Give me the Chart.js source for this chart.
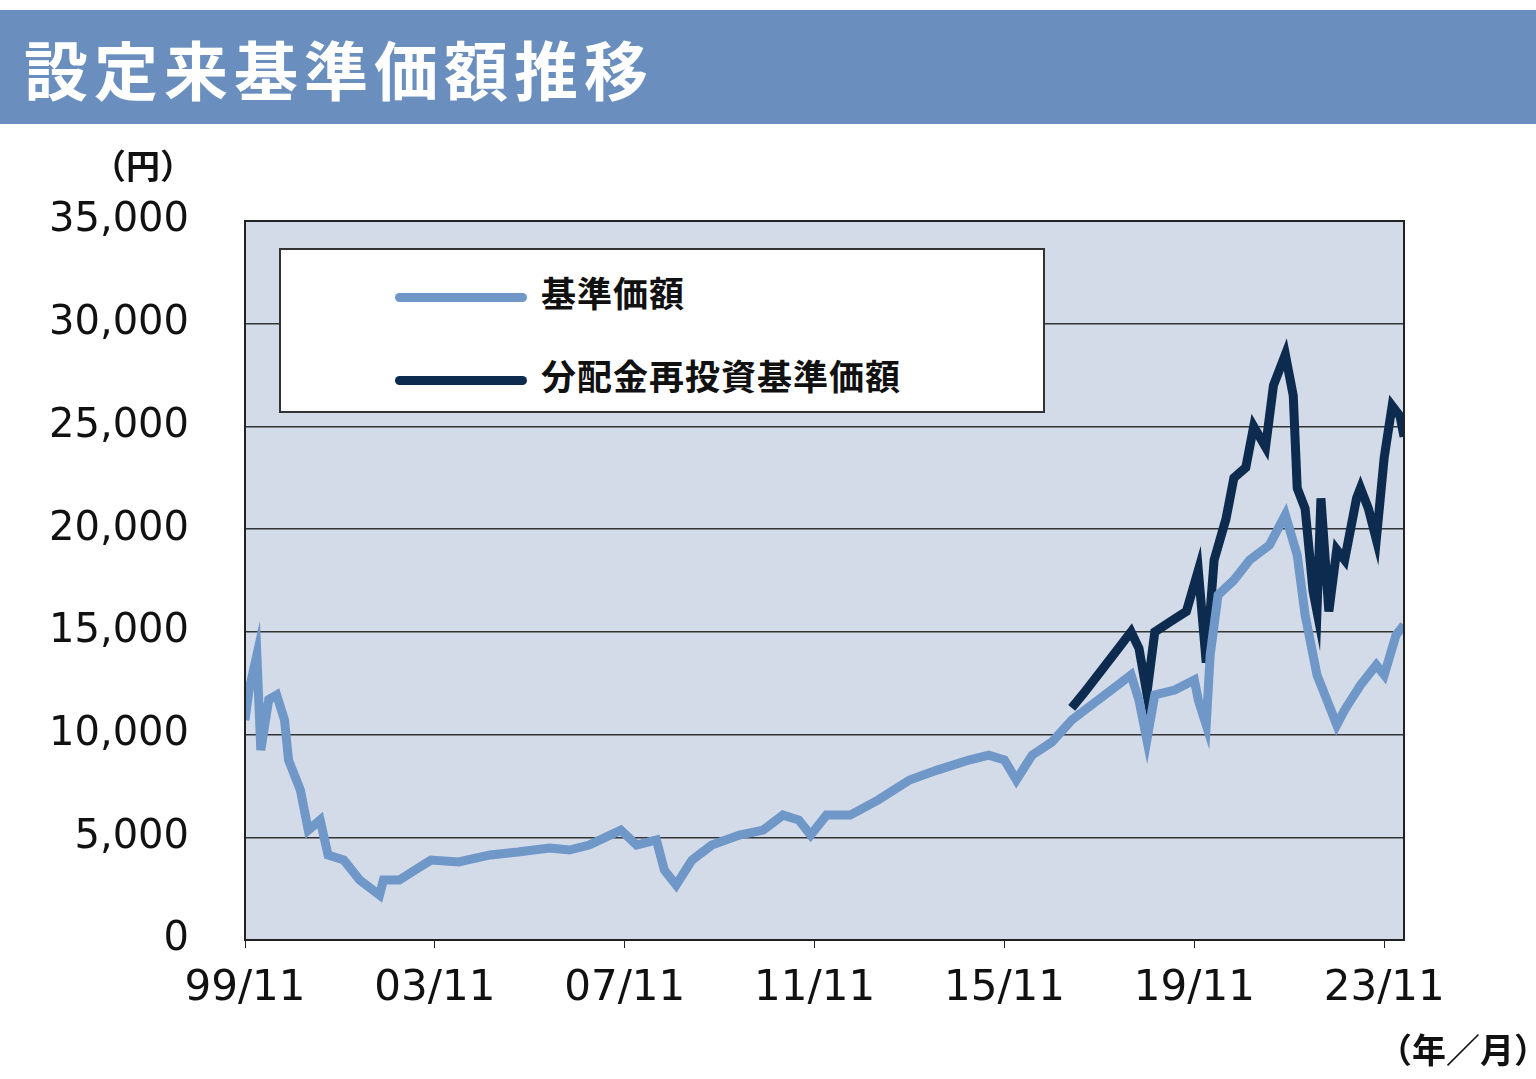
<!DOCTYPE html>
<html>
<head>
<meta charset="utf-8">
<script src="https://cdn.jsdelivr.net/npm/chart.js@4"></script>
<style>
  body { margin: 0; width: 1536px; height: 1079px; background: #fff; font-family: "Noto Sans CJK JP", sans-serif; overflow: hidden; }
  #title { position: absolute; left: 0; top: 10px; width: 1536px; height: 114px; background: #6a8fbe; color: #fff; font-size: 64px; font-weight: bold; line-height: 114px; padding-left: 24px; letter-spacing: 6px; box-sizing: border-box; }
  .lbl { position: absolute; font-size: 34px; font-weight: bold; color: #111; }
  #legend { position: absolute; left: 279px; top: 248px; width: 766px; height: 165px; background: #fff; border: 2px solid #333; box-sizing: border-box; }
  .item { position: absolute; left: 114px; font-size: 35px; font-weight: bold; color: #111; letter-spacing: 1px; }
  .item span { display: inline-block; width: 132px; height: 9px; border-radius: 5px; vertical-align: middle; margin-right: 14px; }
  #wrap { position: absolute; left: 0; top: 0; width: 1536px; height: 1079px; }
</style>
</head>
<body>
<div id="title">設定来基準価額推移</div>
<div id="wrap"><canvas id="c"></canvas></div>
<div class="lbl" style="left:92px;top:140px;">（円）</div>
<div class="lbl" style="left:1378px;top:1024px;">（年／月）</div>
<div id="legend">
  <div class="item" style="top:16px;"><span style="background:#6f97c8"></span>基準価額</div>
  <div class="item" style="top:99px;"><span style="background:#0d2b4f"></span>分配金再投資基準価額</div>
</div>
<script>
// months counted from 1999/11
const navMonths = [0,1,3,4,6,8,10,11,14,16,19,21,25,29,34,35,39,43,47,54,62,69,77,82,87,95,99,104,106,109,113,118,125,131,136,140,143,147,153,160,168,175,183,188,192,195,199,204,209,214,219,224,226,228,230,235,240,241,243,244,246,250,254,259,263,266,268,271,273,276,278,282,286,288,291,293];
const navValues = [10700,12150,13870,9250,11700,11930,10700,8760,7300,5350,5840,4140,3890,2920,2190,2920,2920,3410,3890,3800,4140,4280,4480,4380,4620,5350,4620,4870,3410,2680,3890,4620,5110,5350,6080,5840,5110,6080,6080,6810,7790,8270,8760,9000,8760,7790,9000,9640,10710,11440,12170,12900,11680,9740,11930,12170,12660,11680,10470,13870,16800,17520,18500,19230,20690,18740,15820,12900,11930,10470,11200,12410,13390,12900,14850,15330];
const reinvMonths = [209,212,216,220,224,226,228,230,234,238,241,243,245,248,250,253,255,258,260,263,265,266,268,270,271,272,274,276,278,281,282,284,286,288,290,292,293];
const reinvValues = [11300,12000,13000,14000,15000,14200,12000,15000,15500,16000,18000,13500,18500,20500,22500,23000,25000,24000,27000,28500,26500,22000,21000,17000,16000,21500,16000,19000,18500,21500,22000,21000,19500,23500,26000,25500,24500];
const xTicks = [0,48,96,144,192,240,288];
const yTicks = [0,5000,10000,15000,20000,25000,30000,35000];

const toPts = (ms, vs) => ms.map((m, i) => ({ x: m, y: vs[i] }));

const bgPlugin = {
  id: 'bg',
  beforeDraw(chart) {
    const a = chart.chartArea, ctx = chart.ctx;
    ctx.save();
    ctx.fillStyle = '#d3dbe8';
    ctx.fillRect(a.left, a.top, a.right - a.left, a.bottom - a.top);
    ctx.restore();
  },
  afterDraw(chart) {
    const a = chart.chartArea, ctx = chart.ctx;
    ctx.save();
    ctx.strokeStyle = '#222';
    ctx.lineWidth = 2;
    ctx.strokeRect(a.left, a.top, a.right - a.left, a.bottom - a.top);
    ctx.restore();
  }
};

new Chart(document.getElementById('c'), {
  type: 'line',
  data: {
    datasets: [
      { data: toPts(navMonths, navValues), borderColor: '#6f97c8', borderWidth: 9, pointRadius: 0, tension: 0 },
      { data: toPts(reinvMonths, reinvValues), borderColor: '#0d2b4f', borderWidth: 9, pointRadius: 0, tension: 0 }
    ]
  },
  options: {
    responsive: true,
    maintainAspectRatio: false,
    animation: false,
    layout: { padding: { left: 0, right: 132, top: 221, bottom: 0 } },
    plugins: { legend: { display: false }, tooltip: { enabled: false } },
    scales: {
      x: {
        type: 'linear', min: 0, max: 293,
        afterBuildTicks: s => { s.ticks = xTicks.map(v => ({ value: v })); },
        afterFit: s => { s.height = 139; },
        grid: { drawOnChartArea: false, color: '#222', tickLength: 8 },
        border: { color: '#222' },
        ticks: {
          color: '#111', padding: 16,
          font: { family: 'DejaVu Sans', size: 42 },
          callback: v => {
            const y = (99 + Math.floor((v + 10) / 12)) % 100;
            return String(y).padStart(2, '0') + '/11';
          }
        }
      },
      y: {
        min: 0, max: 35000,
        afterBuildTicks: s => { s.ticks = yTicks.map(v => ({ value: v })); },
        afterFit: s => { s.width = 245; },
        grid: { color: '#333', lineWidth: 1.5, drawTicks: false },
        border: { display: false },
        ticks: {
          color: '#111', padding: 56,
          font: { family: 'DejaVu Sans', size: 40 },
          callback: v => v.toLocaleString('en-US')
        }
      }
    }
  },
  plugins: [bgPlugin]
});
</script>
</body>
</html>
